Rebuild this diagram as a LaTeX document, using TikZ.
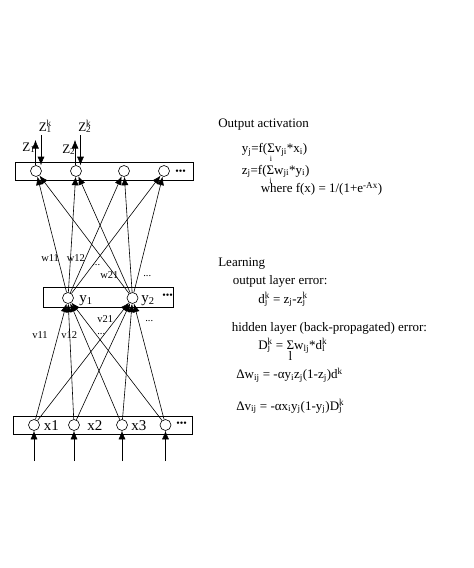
\documentclass[tikz,border=0pt]{standalone}
\usepackage{fontspec}
\setmainfont{Liberation Serif}
\usetikzlibrary{arrows.meta}

% sub- and superscript on one letter, and a sum with its index below
\newcommand{\sbsp}[2]{\rlap{\textsubscript{#1}}\textsuperscript{#2}}
\newcommand{\sumover}[1]{\begin{tabular}[t]{@{}c@{}}Σ\\[-6pt]\footnotesize #1\end{tabular}}

\begin{document}
\begin{tikzpicture}[x=1pt, y=-1pt, >={Latex[length=8.5pt,width=7pt]}, line width=0.6pt,
    layer/.style={
        draw=black,
        rectangle,
        inner sep=0pt},
    unit/.style={
        draw=black,
        circle,
        fill=white,
        minimum size=11pt,
        inner sep=0pt},
    lbl/.style={inner sep=0pt, anchor=base west, font=\fontsize{15}{17}\selectfont},
    zlbl/.style={inner sep=0pt, anchor=base west, font=\fontsize{13}{15}\selectfont},
    wlbl/.style={inner sep=0pt, anchor=base west, font=\fontsize{10.5}{12}\selectfont},
    eqn/.style={inner sep=0pt, anchor=base west, font=\fontsize{13}{15}\selectfont},
    more/.style={inner sep=0pt, anchor=west, font=\fontsize{10}{12}\selectfont}]

    \useasboundingbox (0,0) rectangle (474,568);

    % layer boxes
    \node (out_box) [layer, minimum width=178pt, minimum height=18pt] at (104,171.5) {};
    \node (hid_box) [layer, minimum width=130pt, minimum height=20pt] at (108,297) {};
    \node (in_box) [layer, minimum width=179pt, minimum height=17.5pt] at (102.5,425.5) {};

    % units
    \foreach \i/\x in {1/36,2/76,3/124,4/164}
        \node (out\i) [unit] at (\x,171) {};
    \node (hid1) [unit] at (68,298) {};
    \node (hid2) [unit] at (132.5,298) {};
    \foreach \i/\x in {1/34,2/74,3/122,4/165.5}
        \node (in\i) [unit] at (\x,425) {};

    \node (out_more) [more] at (175,172) {•••};
    \node (hid_more) [more] at (162,296) {•••};
    \node (in_more) [more] at (176,424.5) {•••};

    \node (lab_y1) [lbl] at (79,302) {y\textsubscript{1}};
    \node (lab_y2) [lbl] at (141,302) {y\textsubscript{2}};
    \node (lab_x1) [lbl] at (43.5,430) {x1};
    \node (lab_x2) [lbl] at (87,430) {x2};
    \node (lab_x3) [lbl] at (131,430) {x3};

    % connections
    \foreach \h in {1,2}
        \foreach \o in {1,...,4}
            \draw[->] (hid\h) -- (out\o);
    \foreach \i in {1,...,4}
        \foreach \h in {1,2}
            \draw[->] (in\i) -- (hid\h);

    % inputs
    \foreach \i/\x in {1/34,2/74,3/122,4/165.5}{
        \coordinate (src\i) at (\x,461);
        \draw[->] (src\i) -- (in\i);
    }

    % outputs and targets
    \coordinate (z1) at (35.5,140);
    \coordinate (z1k) at (41,135);
    \coordinate (z2) at (75,140);
    \coordinate (z2k) at (80.5,135);
    \draw[->] (out1.north -| z1) -- (z1);
    \draw[->] (z1k) -- (z1k |- out1.north);
    \draw[->] (out2.north -| z2) -- (z2);
    \draw[->] (z2k) -- (z2k |- out2.north);

    \node (lab_z1) [zlbl] at (22,151) {Z\textsubscript{1}};
    \node (lab_z1k) [zlbl] at (38.5,131) {Z\sbsp{1}{k}};
    \node (lab_z2) [zlbl] at (62,153) {Z\textsubscript{2}};
    \node (lab_z2k) [zlbl] at (78,131) {Z\sbsp{2}{k}};

    % weights
    \node (lab_w11) [wlbl] at (41,261) {w11};
    \node (lab_w12) [wlbl] at (66.5,261) {w12};
    \node (lab_wdots) [wlbl] at (92,265) {...};
    \node (lab_w21) [wlbl] at (100,278.5) {w21};
    \node (lab_wdots2) [wlbl] at (143,276) {...};
    \node (lab_v11) [wlbl] at (32,338) {v11};
    \node (lab_v12) [wlbl] at (61,338) {v12};
    \node (lab_vdots) [wlbl] at (97,334) {...};
    \node (lab_v21) [wlbl] at (97,322) {v21};
    \node (lab_vdots2) [wlbl] at (145,321) {...};

    % equations
    \node (act) [eqn] at (218,127) {Output activation};
    \node (eq_y) [eqn] at (241.5,152.5) {y\textsubscript{j}=f(\sumover{i}v\textsubscript{ji}*x\textsubscript{i})};
    \node (eq_z) [eqn] at (241.5,174) {z\textsubscript{j}=f(\sumover{i}w\textsubscript{ji}*y\textsubscript{i})};
    \node (eq_f) [eqn] at (260.5,192.5) {where f(x) = 1/(1+e\textsuperscript{-Ax})};

    \node (learn) [eqn] at (218,266) {Learning};
    \node (out_err) [eqn] at (232.5,284.5) {output layer error:};
    \node (eq_d) [eqn] at (258,303) {d\sbsp{j}{k} = z\textsubscript{j}-z\sbsp{j}{k}};
    \node (hid_err) [eqn] at (231.5,331) {hidden layer (back-propagated) error:};
    \node (eq_dd) [eqn] at (258,349) {D\sbsp{j}{k} = \begin{tabular}[t]{@{}c@{}}Σ\\[-4pt]l\end{tabular}w\textsubscript{lj}*d\sbsp{l}{k}};
    \node (eq_dw) [eqn] at (236,378.5) {Δw\textsubscript{ij} = -αy\textsubscript{i}z\textsubscript{j}(1-z\textsubscript{j})d\textsuperscript{k}};
    \node (eq_dv) [eqn] at (236,410) {Δv\textsubscript{ij} = -αx\textsubscript{i}y\textsubscript{j}(1-y\textsubscript{j})D\sbsp{j}{k}};
\end{tikzpicture}
\end{document}
